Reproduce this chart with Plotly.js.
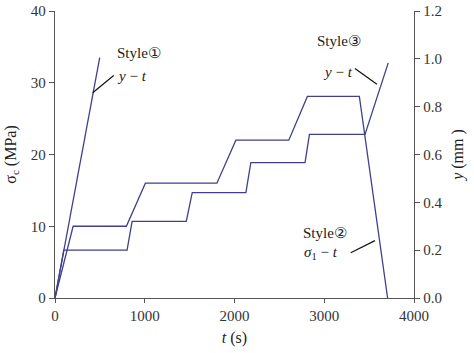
<!DOCTYPE html>
<html>
<head>
<meta charset="utf-8">
<script src="https://cdn.plot.ly/plotly-3.0.1.min.js"></script>
<style>html,body{margin:0;padding:0;background:#fff;}#chart{width:474px;height:353px;}</style>
</head>
<body>
<div id="chart"></div>
<script>
// Style 2: sigma1 - t (MPa, left axis)
const sigmaT = [0, 202, 795, 1007, 1804, 2015, 2605, 2812, 3391, 3706];
const sigmaV = [0, 10.0, 10.0, 16.0, 16.0, 22.0, 22.0, 28.1, 28.1, 0];
// Style 3: y - t (mm, right axis)
const y3T = [0, 98, 803, 859, 1463, 1529, 2127, 2182, 2786, 2835, 3454, 3713];
const y3V = [0, 0.20, 0.20, 0.32, 0.32, 0.441, 0.441, 0.566, 0.566, 0.684, 0.684, 0.983];
// Style 1: y - t (mm, right axis)
const y1T = [0, 498];
const y1V = [0, 1.005];

const lineColor = '#40408c';
const font = 'Liberation Serif, Times New Roman, serif';

const traces = [
  {x: y1T, y: y1V, yaxis: 'y2', mode: 'lines', line: {color: lineColor, width: 1.3}, showlegend: false, hoverinfo: 'skip'},
  {x: sigmaT, y: sigmaV, mode: 'lines', line: {color: lineColor, width: 1.3}, showlegend: false, hoverinfo: 'skip'},
  {x: y3T, y: y3V, yaxis: 'y2', mode: 'lines', line: {color: lineColor, width: 1.3}, showlegend: false, hoverinfo: 'skip'}
];

const axCommon = {
  showgrid: false, zeroline: false, showline: true, linecolor: '#555', linewidth: 1.2,
  ticks: 'outside', ticklen: 5, tickcolor: '#555', tickwidth: 1,
  tickfont: {family: font, size: 15, color: '#333'}
};

const ann = (x, y, text) => ({xref: 'x', yref: 'y', x: x, y: y, text: text, showarrow: false,
  font: {family: font, size: 15, color: '#222'}, xanchor: 'center', yanchor: 'middle'});

const layout = {
  width: 474, height: 353,
  margin: {l: 54.5, r: 59.7, t: 10.5, b: 54.5},
  paper_bgcolor: '#fff', plot_bgcolor: '#fff',
  xaxis: Object.assign({}, axCommon, {range: [0, 4000], tickvals: [0, 1000, 2000, 3000, 4000], ticklen: 4,
    title: {text: '<i>t</i> (s)', font: {family: font, size: 16, color: '#222'}, standoff: 8}}),
  yaxis: Object.assign({}, axCommon, {range: [0, 40], tickvals: [0, 10, 20, 30, 40],
    title: {text: 'σ<sub>c</sub> (MPa)', font: {family: font, size: 16, color: '#222'}, standoff: 10}}),
  yaxis2: Object.assign({}, axCommon, {range: [0, 1.2], overlaying: 'y', side: 'right',
    tickvals: [0, 0.2, 0.4, 0.6, 0.8, 1.0, 1.2], ticktext: ['0.0', '0.2', '0.4', '0.6', '0.8', '1.0', '1.2'],
    title: {text: '<i>y</i> (mm )', font: {family: font, size: 16, color: '#222'}, standoff: 10}}),
  annotations: [
    ann(940, 34.2, 'Style①'),
    ann(862, 31.0, '<i>y</i> − <i>t</i>'),
    ann(3164, 35.8, 'Style③'),
    ann(3150, 31.5, '<i>y</i> − <i>t</i>'),
    ann(3008, 9.1, 'Style②'),
    ann(2964, 6.3, '<i>σ</i><sub>1</sub> − <i>t</i>')
  ],
  shapes: [
    {type: 'line', xref: 'x', yref: 'y', x0: 654, y0: 31.0, x1: 420, y1: 28.6, line: {color: '#111', width: 1.2}},
    {type: 'line', xref: 'x', yref: 'y', x0: 3342, y0: 32.0, x1: 3587, y1: 29.8, line: {color: '#111', width: 1.2}},
    {type: 'line', xref: 'x', yref: 'y', x0: 3295, y0: 6.3, x1: 3565, y1: 8.0, line: {color: '#111', width: 1.2}}
  ]
};

Plotly.newPlot('chart', traces, layout, {staticPlot: true, displayModeBar: false});
</script>
</body>
</html>
